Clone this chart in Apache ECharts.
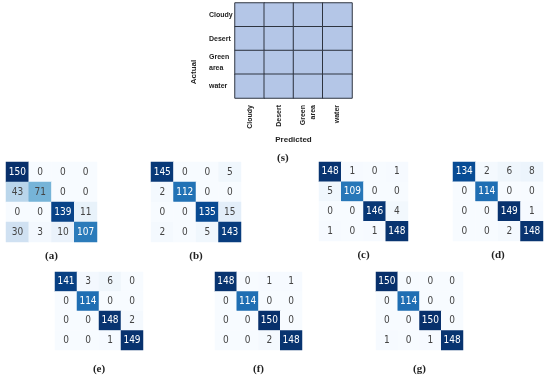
<!DOCTYPE html>
<html><head><meta charset="utf-8">
<script src="https://cdn.jsdelivr.net/npm/echarts@6/dist/echarts.min.js"></script>
<style>html,body{margin:0;padding:0;background:#fff}#c{width:550px;height:376px}</style>
</head><body><div id="c"></div>
<script>
// ---- data ----
var schemCats = ['Cloudy', 'Desert', 'Green\narea', 'water'];
var schemX = ['Cloudy', 'Desert', 'Green\narea', 'water'];
var captions = ['(a)', '(b)', '(c)', '(d)', '(e)', '(f)', '(g)'];
var matA = [[150,0,0,0],[43,71,0,0],[0,0,139,11],[30,3,10,107]];
var matB = [[145,0,0,5],[2,112,0,0],[0,0,135,15],[2,0,5,143]];
var matC = [[148,1,0,1],[5,109,0,0],[0,0,146,4],[1,0,1,148]];
var matD = [[134,2,6,8],[0,114,0,0],[0,0,149,1],[0,0,2,148]];
var matE = [[141,3,6,0],[0,114,0,0],[0,0,148,2],[0,0,1,149]];
var matF = [[148,0,1,1],[0,114,0,0],[0,0,150,0],[0,0,2,148]];
var matG = [[150,0,0,0],[0,114,0,0],[0,0,150,0],[1,0,1,148]];
var mats = [matA, matB, matC, matD, matE, matF, matG];

// ---- layout ----
var grids = [
  {left:235, top:3, width:117, height:95},
  {left:6, top:162, width:91, height:80},
  {left:151, top:162, width:90, height:80},
  {left:319, top:162, width:89, height:79},
  {left:453, top:162, width:90, height:79},
  {left:55, top:272, width:88, height:80},
  {left:215, top:272, width:87, height:80},
  {left:376, top:272, width:87, height:80}
];
var capGap = [0, 9, 9, 9, 9, 14, 14, 14];

var xAxes = [], yAxes = [], series = [];
var idx4 = ['0','1','2','3'];

// schematic
xAxes.push({type:'category', gridIndex:0, data:schemX,
  axisLine:{show:false}, axisTick:{show:false}, splitLine:{show:false},
  axisLabel:{interval:0, rotate:90, margin:7, fontSize:7, fontWeight:'bold', fontFamily:'Liberation Sans', color:'#222', lineHeight:10},
  name:'Predicted', nameLocation:'middle', nameGap:38,
  nameTextStyle:{fontSize:8, fontWeight:'bold', fontFamily:'Liberation Sans', color:'#222'}});
yAxes.push({type:'category', gridIndex:0, data:schemCats, inverse:true,
  axisLine:{show:false}, axisTick:{show:false}, splitLine:{show:false},
  axisLabel:{interval:0, align:'left', margin:26, fontSize:7, fontWeight:'bold', fontFamily:'Liberation Sans', color:'#222', lineHeight:11, padding:[0,0,8,0]}});
var sdata = [];
for (var r = 0; r < 4; r++) for (var c = 0; c < 4; c++) sdata.push([c, r, 0]);
series.push({type:'heatmap', xAxisIndex:0, yAxisIndex:0, data:sdata,
  itemStyle:{color:'#b4c6e7', borderColor:'#2e3440', borderWidth:1}, silent:true});

for (var m = 0; m < mats.length; m++) {
  var gi = m + 1;
  xAxes.push({type:'category', gridIndex:gi, data:idx4,
    axisLine:{show:false}, axisTick:{show:false}, axisLabel:{show:false}, splitLine:{show:false},
    name:captions[m], nameLocation:'middle', nameGap:capGap[gi],
    nameTextStyle:{fontSize:11, fontWeight:'bold', fontFamily:'Liberation Serif', color:'#222'}});
  yAxes.push({type:'category', gridIndex:gi, data:idx4, inverse:true,
    axisLine:{show:false}, axisTick:{show:false}, axisLabel:{show:false}, splitLine:{show:false}});
  var d = [];
  mats[m].forEach(function(row, ri){
    row.forEach(function(v, ci){
      d.push({value:[ci, ri, v], label:{color: v > 90 ? '#ffffff' : '#444444'}});
    });
  });
  series.push({type:'heatmap', xAxisIndex:gi, yAxisIndex:gi, data:d, silent:true,
    label:{show:true, fontSize:10, fontFamily:'DejaVu Sans Condensed, DejaVu Sans', formatter:function(p){return p.value[2];}}});
}

var chart = echarts.init(document.getElementById('c'), null, {renderer:'canvas'});
chart.setOption({
  animation:false,
  backgroundColor:'#ffffff',
  title:{text:'(s)', left:272, top:148, textStyle:{fontSize:11, fontWeight:'bold', fontFamily:'Liberation Serif', color:'#222'}},
  graphic:[{type:'text', x:194, y:72, rotation:Math.PI/2,
    style:{text:'Actual', fontSize:8, fontWeight:'bold', fontFamily:'Liberation Sans', fill:'#222', align:'center', verticalAlign:'middle'}}],
  grid:grids,
  xAxis:xAxes,
  yAxis:yAxes,
  visualMap:{type:'continuous', show:false, min:0, max:150, seriesIndex:[1,2,3,4,5,6,7],
    inRange:{color:['#f7fbff','#deebf7','#c6dbef','#9ecae1','#6baed6','#4292c6','#2171b5','#08519c','#08306b']}},
  series:series
});
</script></body></html>
